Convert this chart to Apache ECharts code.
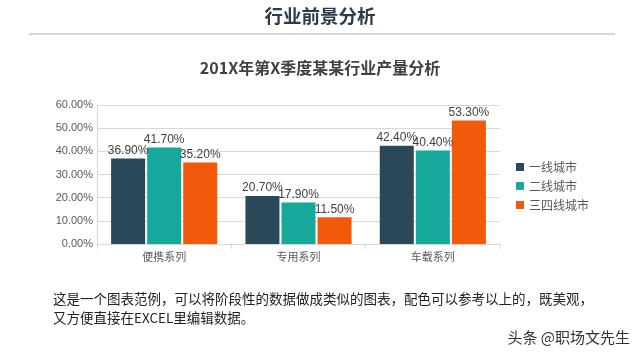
<!DOCTYPE html>
<html><head><meta charset="utf-8">
<script src="https://cdn.jsdelivr.net/npm/echarts@6/dist/echarts.min.js"></script>
<style>html,body{margin:0;padding:0;background:#fff}#c{width:640px;height:360px}</style>
</head><body><div id="c"></div>
<script>
const categories = ['便携系列', '专用系列', '车载系列'];
const seriesNames = ['一线城市', '二线城市', '三四线城市'];
const tier1 = [36.9, 20.7, 42.4];
const tier2 = [41.7, 17.9, 40.4];
const tier34 = [35.2, 11.5, 53.3];
const yTicks = [0, 10, 20, 30, 40, 50, 60];
const colors = ['#29485a', '#16a89b', '#f05a0a'];
const cjk = '"Noto Sans CJK SC", sans-serif';
const num = '"Liberation Sans", Arial, "Noto Sans CJK SC", sans-serif';

const chart = echarts.init(document.getElementById('c'), null, {renderer: 'canvas'});
const values = [tier1, tier2, tier34];
chart.setOption({
  animation: false,
  color: colors,
  title: {
    text: '201X年第X季度某某行业产量分析',
    left: 'center', top: 55,
    textStyle: {fontFamily: cjk, fontSize: 16, fontWeight: 'bold', color: '#404040'}
  },
  graphic: [
    {type: 'text', left: 'center', top: 7, style: {text: '行业前景分析', fontFamily: cjk, fontSize: 18.5, fontWeight: 'bold', fill: '#2b3b4b'}},
    {type: 'rect', shape: {x: 29, y: 33, width: 586, height: 2}, style: {fill: '#d6d6d6'}},
    {type: 'text', left: 53, top: 289, style: {text: '这是一个图表范例，可以将阶段性的数据做成类似的图表，配色可以参考以上的，既美观，\n又方便直接在EXCEL里编辑数据。', fontFamily: cjk, fontSize: 13.5, lineHeight: 19, fill: '#222'}},
    {type: 'text', right: 10, top: 330, style: {text: '头条 @职场文先生', fontFamily: cjk, fontSize: 15, fill: '#333'}}
  ],
  legend: {
    orient: 'vertical', left: 511, top: 156, itemWidth: 8, itemHeight: 8, itemGap: 7,
    icon: 'rect', data: seriesNames,
    textStyle: {fontFamily: cjk, fontSize: 12, color: '#595959'}
  },
  grid: {left: 97, right: 140, top: 105, bottom: 116},
  xAxis: {
    type: 'category', data: categories,
    axisLine: {lineStyle: {color: '#d9d9d9'}},
    axisTick: {show: true, lineStyle: {color: '#d9d9d9'}},
    axisLabel: {fontFamily: cjk, fontSize: 11, color: '#595959', margin: 7}
  },
  yAxis: {
    type: 'value', min: yTicks[0], max: yTicks[yTicks.length - 1], interval: 10,
    axisLine: {show: true, lineStyle: {color: '#d9d9d9'}},
    splitLine: {lineStyle: {color: '#d9d9d9'}},
    axisLabel: {fontFamily: num, fontSize: 11, color: '#595959', formatter: v => v.toFixed(2) + '%', margin: 4}
  },
  series: seriesNames.map((n, i) => ({
    name: n, type: 'bar', data: values[i],
    barCategoryGap: '21%', barGap: '6%',
    label: {show: true, position: 'top', distance: 2, fontFamily: num, fontSize: 12, color: '#404040', formatter: p => p.value.toFixed(2) + '%'}
  }))
});
</script></body></html>
